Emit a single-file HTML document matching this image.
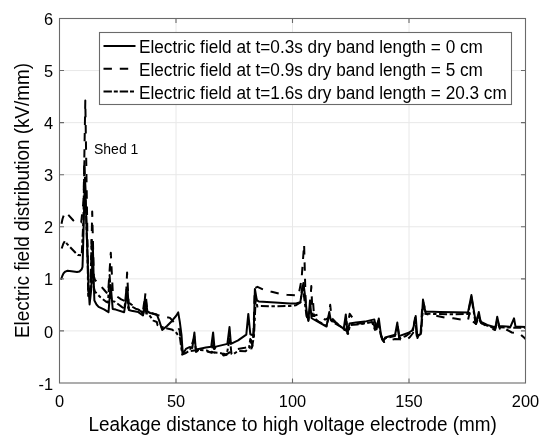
<!DOCTYPE html>
<html><head><meta charset="utf-8">
<style>
html,body{margin:0;padding:0;background:#fff;}
svg{display:block;}
text{font-family:"Liberation Sans",Arial,sans-serif;fill:#000;}
</style></head>
<body>
<svg width="550" height="443" viewBox="0 0 550 443">
<rect x="0" y="0" width="550" height="443" fill="#fff"/>
<g stroke="#e8e8e8" stroke-width="1" fill="none">
<path d="M176 18.5V383M292.5 18.5V383M409 18.5V383"/>
<path d="M59.5 70.57H525.5M59.5 122.64H525.5M59.5 174.71H525.5M59.5 226.78H525.5M59.5 278.85H525.5M59.5 330.92H525.5"/>
</g>
<g id="curves" fill="none" stroke="#000" stroke-width="2" stroke-linejoin="round">
<path d="M61.0 279.6L62.3 276.0L63.6 273.2L65.3 271.6L67.5 270.8L71.5 271.2L77.0 271.9L79.5 271.4L81.5 269.6L82.5 267.0L82.8 258.0L84.9 178.0L88.6 288.0L89.6 304.5L91.2 290.0L92.9 248.0L94.0 290.0L94.4 300.5L96.5 304.5L98.6 306.8L104.0 309.3L108.5 312.1L110.7 285.0L112.7 309.0L115.8 309.6L124.1 312.3L127.6 289.4L128.8 310.0L131.5 310.7L138.3 312.1L143.0 315.5L145.8 300.5L147.4 311.5L150.2 313.0L156.8 314.5L159.2 320.6L162.2 330.0L167.0 326.0L171.7 321.2L176.0 316.0L178.2 312.4L179.8 321.9L181.5 334.8L182.8 354.3L185.9 348.9L189.5 347.1L192.3 348.0L194.4 332.6L195.7 348.5L197.6 349.3L205.8 347.5L211.2 346.8L213.1 332.4L214.6 349.0L215.9 346.6L227.4 343.9L229.5 327.0L230.9 343.9L238.1 340.4L246.3 334.6L248.3 313.9L250.3 334.2L253.6 335.5L254.9 289.0L256.8 300.2L258.8 301.5L275.0 302.6L290.0 303.4L296.0 303.4L300.3 302.3L303.4 283.0L305.3 298.0L307.0 315.0L308.4 321.0L310.0 300.5L311.5 318.0L313.0 319.0L318.6 322.2L326.5 326.5L329.3 312.0L330.5 319.0L333.2 321.1L341.1 326.8L343.7 329.0L345.8 314.4L347.3 333.5L349.5 323.4L356.0 322.5L365.0 321.6L374.3 319.4L376.6 329.4L378.8 318.5L380.6 332.1L382.0 339.3L383.4 341.1L385.2 337.5L395.1 334.8L397.3 322.6L399.2 338.4L399.6 335.9L408.0 333.0L412.9 330.2L415.7 316.0L417.4 338.0L418.8 335.0L420.8 334.0L423.0 299.6L425.3 311.5L440.0 311.9L455.0 312.2L468.0 312.5L471.4 295.1L476.0 323.9L478.8 312.0L480.5 321.0L481.6 322.2L487.2 325.0L494.1 326.9L495.2 329.0L497.2 316.8L499.2 326.0L510.4 326.9L514.0 318.3L515.5 326.6L525.5 326.9"/>
<path d="M61.5 223.8L62.5 219.0L63.8 215.3L65.0 212.3L66.2 212.6L68.3 214.9L73.4 220.5L76.0 222.6L79.0 223.2L81.2 222.6L83.6 200.0L85.3 100.6L87.3 230.0L88.4 292.0L90.8 282.0L92.2 211.6L93.8 276.0L95.0 280.0L99.6 284.5L104.7 290.5L108.0 294.5L110.8 252.7L112.8 292.5L114.0 294.4L121.2 299.4L125.8 301.5L127.1 272.5L128.6 302.5L131.5 304.6L134.2 306.0L140.0 310.8L143.6 312.5L145.5 292.2L147.2 310.0L152.0 313.2L157.0 315.0L163.2 316.2L170.0 317.9L176.5 325.0L179.5 330.0L182.5 352.0L190.0 351.0L198.0 350.0L206.0 351.5L210.0 352.0L218.0 352.7L222.0 353.2L226.0 354.5L232.0 351.2L236.8 349.1L244.9 347.8L249.5 346.0L251.0 340.0L252.5 346.0L253.6 330.0" stroke-dasharray="8.4 7.9" stroke-dashoffset="0.00"/>
<path d="M253.6 330.0L254.8 288.1L257.5 286.8L262.3 289.1L270.7 291.5L278.8 293.6L286.8 294.8L294.7 295.3L298.5 295.5L301.5 280.0L304.1 244.4L305.6 300.0L307.0 317.0L309.5 316.0L311.3 286.0L312.6 316.0L318.4 314.5L325.1 319.6L328.6 318.0L330.2 304.8L331.6 318.0L336.0 322.5L343.5 328.5L346.5 331.0L349.7 313.8L353.3 319.0L356.3 323.9L364.4 323.0L373.0 322.0L376.0 331.0L378.0 322.0L381.0 336.0L384.0 342.0L395.0 339.0L399.6 339.3L406.8 339.8L410.0 337.0L413.0 333.0L415.0 318.0L417.0 338.0L420.5 336.0L422.0 310.0L424.5 313.5" stroke-dasharray="8.4 7.9" stroke-dashoffset="6.37"/>
<path d="M424.5 313.5L430.0 315.0L437.2 316.0L444.6 317.6L453.4 318.3L460.7 319.4L468.0 320.0L469.6 313.0L471.0 320.0L476.0 324.0L479.0 316.0L481.0 323.0L488.0 327.0L495.0 330.0L497.5 320.0L500.0 329.5" stroke-dasharray="8.4 7.9" stroke-dashoffset="4.30"/>
<path d="M500.0 329.5L506.3 329.5L511.9 332.5L516.0 333.0L519.0 333.0L524.6 338.1L525.5 339.0" stroke-dasharray="8.4 7.9" stroke-dashoffset="10.00"/>
<path d="M61.7 248.5L63.3 243.8L64.9 240.9L66.8 243.6L69.0 246.0L75.9 253.2L78.0 255.0L81.7 255.2L83.4 220.0L84.4 160.0L87.6 260.0L88.2 296.0L90.3 290.0L91.6 240.0L93.2 285.0L95.0 291.7L100.4 297.2L105.8 301.5L108.0 302.5L109.6 275.0L111.3 301.0L114.9 301.7L122.1 307.1L124.5 308.5L126.3 290.0L128.2 308.0L132.2 306.7L135.6 308.7L138.3 309.4L142.6 313.4L144.5 300.0L146.3 313.5L148.0 313.5L153.4 320.6L156.8 322.0L157.5 325.0L164.2 328.0L168.3 328.7L171.7 329.4L175.8 332.1L180.0 338.0L182.2 354.5L186.0 353.0L190.0 350.0L194.4 337.0L196.0 352.0L199.0 350.0L207.0 350.6L209.1 352.0L211.8 352.7L213.0 342.0L214.5 352.5L218.0 352.7L222.0 353.4L223.4 355.4L226.7 354.7L229.8 338.0L231.5 354.0L232.7 354.5L238.0 351.0L245.6 351.2L249.0 348.0L250.3 339.0L251.5 350.0L254.0 336.0L255.8 296.0L257.2 306.4L260.6 305.9L270.7 306.2L290.0 306.0L296.0 305.2L300.5 302.5L302.5 285.0L304.5 300.0L306.5 316.0L308.5 320.0L310.5 303.0L313.0 301.0L314.2 318.0L318.6 321.5L326.5 326.0L329.2 316.0L331.0 320.5L335.0 323.5L342.0 327.5L344.5 330.0L346.2 318.0L348.0 334.0L350.0 325.0L357.0 324.5L365.0 323.5L372.0 322.0L375.0 330.0L378.2 321.0L380.5 334.0L383.0 340.0L386.0 338.0L395.0 336.0L397.8 326.0L399.5 338.5L406.0 336.0L412.0 331.5L415.2 320.0L417.0 336.0L421.0 334.0L423.4 302.0L425.8 313.4L427.6 313.7L434.3 314.0L450.0 314.2L468.0 314.0L471.4 297.0L475.5 323.0L478.5 315.0L480.5 322.0L482.0 323.5L488.0 326.0L495.0 328.6L497.0 321.0L499.5 327.2L510.4 327.6L516.0 327.7L525.5 327.7" stroke-dasharray="8 2.6 3.4 2.6" stroke-dashoffset="0.00"/>

</g>
<g stroke="#6a6a6a" stroke-width="1.1" fill="none">
<rect x="59.5" y="18.5" width="466" height="364.5"/>
<path d="M176 383v-4.5M292.5 383v-4.5M409 383v-4.5M176 18.5v4.5M292.5 18.5v4.5M409 18.5v4.5"/>
<path d="M59.5 70.57h4.5M59.5 122.64h4.5M59.5 174.71h4.5M59.5 226.78h4.5M59.5 278.85h4.5M59.5 330.92h4.5"/>
<path d="M525.5 70.57h-4.5M525.5 122.64h-4.5M525.5 174.71h-4.5M525.5 226.78h-4.5M525.5 278.85h-4.5M525.5 330.92h-4.5"/>
</g>
<text transform="translate(53.20 25.10) scale(1 1.04)" font-size="16.4" text-anchor="end">6</text>
<text transform="translate(53.20 77.17) scale(1 1.04)" font-size="16.4" text-anchor="end">5</text>
<text transform="translate(53.20 129.24) scale(1 1.04)" font-size="16.4" text-anchor="end">4</text>
<text transform="translate(53.20 181.31) scale(1 1.04)" font-size="16.4" text-anchor="end">3</text>
<text transform="translate(53.20 233.38) scale(1 1.04)" font-size="16.4" text-anchor="end">2</text>
<text transform="translate(53.20 285.45) scale(1 1.04)" font-size="16.4" text-anchor="end">1</text>
<text transform="translate(53.20 337.52) scale(1 1.04)" font-size="16.4" text-anchor="end">0</text>
<text transform="translate(53.20 389.59) scale(1 1.04)" font-size="16.4" text-anchor="end">-1</text>
<text transform="translate(59.50 406.80) scale(1 1.04)" font-size="16.4" text-anchor="middle">0</text>
<text transform="translate(176.00 406.80) scale(1 1.04)" font-size="16.4" text-anchor="middle">50</text>
<text transform="translate(292.50 406.80) scale(1 1.04)" font-size="16.4" text-anchor="middle">100</text>
<text transform="translate(409.00 406.80) scale(1 1.04)" font-size="16.4" text-anchor="middle">150</text>
<text transform="translate(525.50 406.80) scale(1 1.04)" font-size="16.4" text-anchor="middle">200</text>
<text transform="translate(292.70 430.50) scale(1 1.04)" font-size="18.9" text-anchor="middle">Leakage distance to high voltage electrode (mm)</text>
<text transform="translate(29.2 200.5) rotate(-90) scale(1 1.04)" font-size="18.9" text-anchor="middle">Electric field distribution (kV/mm)</text>
<text transform="translate(94.00 154.40) scale(1 1.04)" font-size="14">Shed 1</text>
<rect x="99.5" y="32.5" width="412" height="72" fill="#fff" stroke="#6a6a6a" stroke-width="1.1"/>
<g stroke="#000" stroke-width="2" fill="none">
<path d="M103.5 46H135.5"/>
<path d="M103.5 68.7H135.5" stroke-dasharray="8.4 7.9"/>
<path d="M103.5 91.5H135.5" stroke-dasharray="8.4 1.9 4 1.9"/>
</g>
<text transform="translate(139.00 52.90) scale(1 1.04)" font-size="17.2">Electric field at t=0.3s dry band length = 0 cm</text>
<text transform="translate(139.00 75.70) scale(1 1.04)" font-size="17.2">Electric field at t=0.9s dry band length = 5 cm</text>
<text transform="translate(139.00 98.50) scale(1 1.04)" font-size="17.2">Electric field at t=1.6s dry band length = 20.3 cm</text>

</svg>
</body></html>
